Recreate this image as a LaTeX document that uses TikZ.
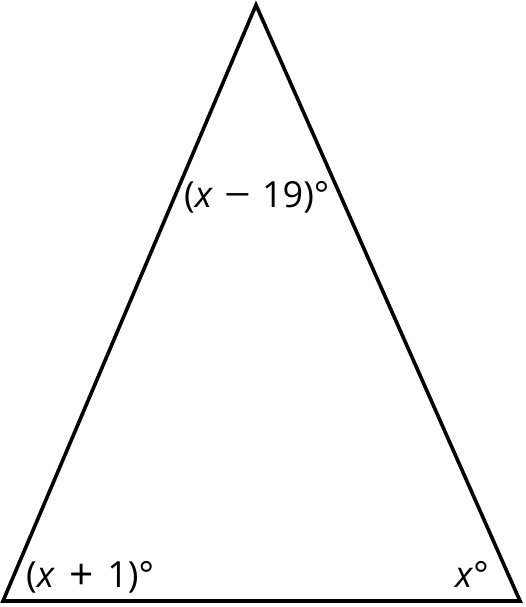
\documentclass[tikz,border=0pt]{standalone}
\usepackage{fontspec}
\usepackage{graphicx}
\setmainfont{Open Sans}
\newcommand{\wsp}[1]{\hspace{#1}}
\newcommand{\bigminus}{\scalebox{1.3}[1]{−}}
\newcommand{\bigplus}{\raisebox{-0.03em}{\scalebox{1.18}{+}}}
\begin{document}
\begin{tikzpicture}[x=1pt,y=1pt,
  side/.style={line width=3.6pt,line join=miter},
  lbl/.style={font=\fontsize{36}{42}\selectfont,inner sep=0pt,anchor=base west}]
\useasboundingbox (0,0) rectangle (525,607);
\coordinate (A) at (256,602);
\coordinate (B) at (3,6);
\coordinate (C) at (520,6);
\draw[side] (A) -- (B) -- (C) -- cycle;
\node[lbl] (la) at (184,399) {(\textit{x} \wsp{0.05em}\bigminus\wsp{0.05em} 19)°};
\node[lbl] (lb) at (26,19) {(\textit{x} \wsp{0.13em}\bigplus\wsp{0.13em} 1)°};
\node[lbl] (lc) at (455,19) {\textit{x}°};
\end{tikzpicture}
\end{document}
